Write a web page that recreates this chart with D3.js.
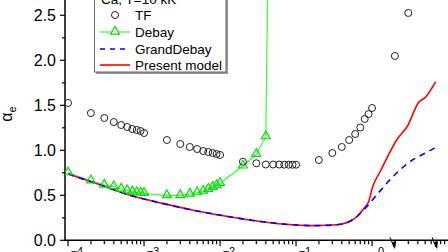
<!DOCTYPE html>
<meta charset="utf-8">
<style>
body { margin: 0; background: #fff; }
svg { font-family: "Liberation Sans", Arial, Helvetica, sans-serif; }
</style>
<body>
<script src="https://d3js.org/d3.v7.min.js"></script>
<script>

// TF (Thomas-Fermi) points
var tfX = [1e-4, 2e-4, 3e-4, 4e-4, 5e-4, 6e-4, 7e-4, 8e-4, 9e-4, 1e-3,
           2e-3, 3e-3, 4e-3, 5e-3, 6e-3, 7e-3, 8e-3, 9e-3, 1e-2,
           2e-2, 3e-2, 4e-2, 5e-2, 6e-2, 7e-2, 8e-2, 9e-2, 0.1,
           0.2, 0.3, 0.4, 0.5, 0.6, 0.7, 0.8, 0.9, 1.0,
           2, 3];
var tfY = [1.526, 1.414, 1.359, 1.314, 1.281, 1.259, 1.237, 1.226, 1.214, 1.192,
           1.114, 1.070, 1.037, 1.014, 0.992, 0.981, 0.970, 0.959, 0.948,
           0.873, 0.856, 0.842, 0.842, 0.842, 0.840, 0.840, 0.840, 0.840,
           0.892, 0.970, 1.037, 1.114, 1.181, 1.253, 1.348, 1.403, 1.470,
           2.048, 2.526];

// Debay points
var debX = [1e-4, 2e-4, 3e-4, 4e-4, 5e-4, 6e-4, 7e-4, 8e-4, 9e-4, 1e-3,
            2e-3, 3e-3, 4e-3, 5e-3, 6e-3, 7e-3, 8e-3, 9e-3, 1e-2,
            2e-2, 3e-2, 4e-2, 5e-2];
var debY = [0.751, 0.662, 0.614, 0.596, 0.570, 0.551, 0.540, 0.529, 0.526, 0.522,
            0.496, 0.496, 0.514, 0.529, 0.548, 0.567, 0.589, 0.609, 0.633,
            0.826, 0.956, 1.151, 7.6];

// GrandDebay and Present model coincide up to ~0.65
var commonX = [1e-4, 2.3e-4, 6.4e-4, 1.75e-3, 4.8e-3, 1.32e-2, 3.6e-2, 0.099, 0.165, 0.21, 0.385, 0.52, 0.644];
var commonY = [0.737, 0.634, 0.503, 0.410, 0.329, 0.262, 0.207, 0.170, 0.163, 0.164, 0.178, 0.214, 0.270];
var presentTailX = [0.773, 0.908, 1.01, 1.29, 1.66, 2.15, 2.93, 4.09, 5.06, 6.85];
var presentTailY = [0.350, 0.437, 0.584, 0.770, 0.955, 1.125, 1.270, 1.530, 1.590, 1.760];
var grandTailX = [0.773, 1.22, 1.92, 3.02, 4.76, 6.85];
var grandTailY = [0.335, 0.529, 0.714, 0.862, 0.959, 1.029];

// small arrow marks on the x axis
var arrowX = [1.89, 6.74];

var xMajor = [-4, -3, -2, -1, 0];
var yTicks = [0, 0.5, 1.0, 1.5, 2.0, 2.5];

var legendItems = ["TF", "Debay", "GrandDebay", "Present model"];

var W = 448, H = 252;
var left = 65, bottom = 240.3;

var x = d3.scaleLog()
    .domain([Math.pow(10, -4.04), Math.pow(10, 1.1)])
    .range([left, left + 76 * 5.14]);
var y = d3.scaleLinear()
    .domain([0, 2.8])
    .range([bottom, bottom - 252]);

var svg = d3.select("body").append("svg")
    .attr("width", W)
    .attr("height", H);

svg.append("defs").append("clipPath").attr("id", "plot")
  .append("rect")
    .attr("x", left).attr("y", y(2.8))
    .attr("width", x.range()[1] - left).attr("height", bottom - y(2.8));

// x axis with log ticks
var minor = [];
xMajor.concat([1]).forEach(function(p) {
  for (var k = 1; k <= 9; k++) {
    var v = k * Math.pow(10, p - 1);
    if (v >= x.domain()[0] && v <= x.domain()[1]) minor.push(v);
  }
});
svg.append("line")
    .attr("x1", left).attr("x2", W + 10)
    .attr("y1", bottom).attr("y2", bottom)
    .attr("stroke", "#000").attr("stroke-width", 1.5);
svg.selectAll(".xt").data(minor).enter().append("line")
    .attr("x1", function(d) { return x(d); })
    .attr("x2", function(d) { return x(d); })
    .attr("y1", bottom)
    .attr("y2", function(d) {
      var l = Math.log10(d);
      return Math.abs(l - Math.round(l)) < 1e-6 ? bottom + 6 : bottom + 4;
    })
    .attr("stroke", "#000").attr("stroke-width", 1.2);

// labels 10^n sit mostly below the visible frame, only exponent tops show
var xl = svg.selectAll(".xl").data(xMajor).enter().append("text")
    .attr("x", function(d) { return x(Math.pow(10, d)); })
    .attr("y", 264)
    .attr("text-anchor", "middle")
    .attr("font-size", 16);
xl.append("tspan").text("10");
xl.append("tspan").attr("dy", -9).attr("font-size", 11)
    .text(function(d) { return d < 0 ? "\u2212" + (-d) : "" + d; });

// y axis
svg.append("line")
    .attr("x1", left).attr("x2", left)
    .attr("y1", bottom + 0.7).attr("y2", -5)
    .attr("stroke", "#000").attr("stroke-width", 1.5);
var yMinor = d3.range(0, 2.76, 0.25);
svg.selectAll(".yt").data(yMinor).enter().append("line")
    .attr("x1", left)
    .attr("x2", function(d) { return Math.abs(d * 2 - Math.round(d * 2)) < 1e-6 ? left - 5 : left - 3; })
    .attr("y1", function(d) { return y(d); })
    .attr("y2", function(d) { return y(d); })
    .attr("stroke", "#000").attr("stroke-width", 1.2);
svg.selectAll(".yl").data(yTicks).enter().append("text")
    .attr("x", 56)
    .attr("y", function(d) { return y(d); })
    .attr("dy", "0.36em")
    .attr("text-anchor", "end")
    .attr("font-size", 16)
    .text(d3.format(".1f"));

var yt = svg.append("text")
    .attr("transform", "translate(12,114) rotate(-90)")
    .attr("text-anchor", "middle")
    .attr("font-size", 16);
yt.append("tspan").text("\u03b1");
yt.append("tspan").attr("dy", 4).attr("font-size", 11).text("e");

// arrows
svg.selectAll(".ar").data(arrowX).enter().append("path")
    .attr("d", function(d) {
      var px = x(d);
      return "M" + (px - 3) + "," + (bottom - 3) + "L" + (px + 1) + "," + (bottom + 7);
    })
    .attr("stroke", "#000").attr("stroke-width", 1);
svg.selectAll(".ah").data(arrowX).enter().append("path")
    .attr("d", function(d) {
      var px = x(d);
      return "M" + (px - 1) + "," + (bottom + 2) + "L" + (px + 3) + "," + (bottom + 1) + "L" + (px + 2) + "," + (bottom + 9) + "Z";
    })
    .attr("fill", "#000");

var g = svg.append("g").attr("clip-path", "url(#plot)");
var line = d3.line()
    .x(function(d) { return x(d[0]); })
    .y(function(d) { return y(d[1]); });

var deb = d3.zip(debX, debY);
var grand = d3.zip(commonX.concat(grandTailX), commonY.concat(grandTailY));
var present = d3.zip(commonX.concat(presentTailX), commonY.concat(presentTailY));
var tf = d3.zip(tfX, tfY);

g.append("path").datum(deb)
    .attr("d", line)
    .attr("fill", "none").attr("stroke", "#33ff33").attr("stroke-width", 1.2);
g.append("path").datum(present)
    .attr("d", line.curve(d3.curveMonotoneX))
    .attr("fill", "none").attr("stroke", "#ff0000").attr("stroke-width", 1.6);
g.append("path").datum(grand)
    .attr("d", line.curve(d3.curveMonotoneX))
    .attr("fill", "none").attr("stroke", "#0000ff").attr("stroke-width", 1.6)
    .attr("stroke-dasharray", "6,5");

var tri = d3.symbol().type(d3.symbolTriangle).size(34);
g.selectAll(".tri").data(deb).enter().append("path")
    .attr("transform", function(d) { return "translate(" + x(d[0]) + "," + (y(d[1]) - 0.5) + ")"; })
    .attr("d", tri)
    .attr("fill", "none").attr("stroke", "#00e000").attr("stroke-width", 1.2);

g.selectAll(".tf").data(tf).enter().append("circle")
    .attr("cx", function(d) { return x(d[0]); })
    .attr("cy", function(d) { return y(d[1]); })
    .attr("r", 3.5)
    .attr("fill", "none").attr("stroke", "#222").attr("stroke-width", 1);

// legend
var lg = svg.append("g");
lg.append("rect").attr("x", 96).attr("y", -30).attr("width", 132).attr("height", 104).attr("fill", "#999");
lg.append("rect").attr("x", 94.5).attr("y", -30).attr("width", 131.5).attr("height", 102)
    .attr("fill", "#fff").attr("stroke", "#666").attr("stroke-width", 1);
lg.append("text").attr("x", 101).attr("y", 4).attr("font-size", 13.5).text("Ca, T=10 kK");

var ly = [15, 32, 49, 65];
lg.selectAll(".lt").data(legendItems).enter().append("text")
    .attr("x", 135)
    .attr("y", function(d, i) { return ly[i] + 5; })
    .attr("font-size", 13.5)
    .text(function(d) { return d; });
lg.append("circle").attr("cx", 115).attr("cy", ly[0]).attr("r", 3.5)
    .attr("fill", "none").attr("stroke", "#222");
lg.append("line").attr("x1", 100).attr("x2", 130).attr("y1", ly[1]).attr("y2", ly[1])
    .attr("stroke", "#33ff33").attr("stroke-width", 1.2);
lg.append("path").attr("transform", "translate(115," + (ly[1] - 0.5) + ")").attr("d", tri)
    .attr("fill", "#fff").attr("stroke", "#00e000").attr("stroke-width", 1.2);
lg.append("line").attr("x1", 100).attr("x2", 130).attr("y1", ly[2]).attr("y2", ly[2])
    .attr("stroke", "#0000ff").attr("stroke-width", 1.6).attr("stroke-dasharray", "5,5");
lg.append("line").attr("x1", 100).attr("x2", 130).attr("y1", ly[3]).attr("y2", ly[3])
    .attr("stroke", "#ff0000").attr("stroke-width", 1.6);

</script>
</body>
